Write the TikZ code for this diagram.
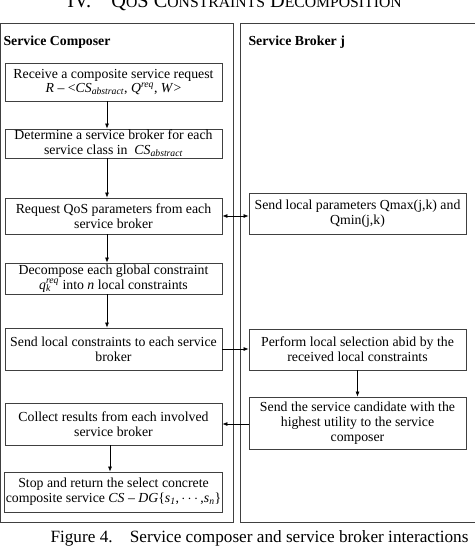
\documentclass[tikz,border=0pt]{standalone}
\usepackage{fontspec}
\setmainfont{Liberation Serif}
\usetikzlibrary{arrows.meta}
\newcommand{\itx}[1]{\textit{#1}}
\newcommand{\subsup}[3]{\textit{#1}\rlap{\textsubscript{\textit{#2}}}\textsuperscript{\textit{#3}}}
\begin{document}
\begin{tikzpicture}[x=1pt,y=-1pt,
  lane/.style={draw=black!75,line width=0.8pt},
  stepbox/.style={draw=black!75,line width=0.8pt,align=center,inner sep=1pt,
    font=\fontsize{13.8}{14.8}\selectfont,minimum width=217pt},
  head/.style={font=\fontsize{13.8}{15}\selectfont\bfseries,anchor=west},
  conn/.style={line width=0.7pt,-{Latex[length=5pt,width=4pt]}},
  conn2/.style={line width=0.7pt,{Latex[length=5pt,width=4pt]}-{Latex[length=5pt,width=4pt]}}]
\useasboundingbox (0,0) rectangle (474,546);
\node[anchor=base] (title) at (234.5,8) {\fontsize{20.3}{22}\selectfont IV.\quad Q{\fontsize{15.7}{17}\selectfont O}S C{\fontsize{15.7}{17}\selectfont ONSTRAINTS} D{\fontsize{15.7}{17}\selectfont ECOMPOSITION}};
% lanes
\draw[lane] (0.5,23) rectangle (233.5,522);
\draw[lane] (240,23) rectangle (476,522);
\node[head] (hc) at (0,42) {Service Composer};
\node[head] (hb) at (245,42) {Service Broker j};
\coordinate (ax) at (107,0);
\coordinate (ax2) at (110,0);
% left steps
\node[stepbox,minimum height=38pt] (b1) at (113.5,82) {Receive a composite service request\\ \itx{R} – <\itx{CS}\textsubscript{\itx{abstract}}, \itx{Q}\textsuperscript{\itx{req}}, \itx{W}>};
\node[stepbox,minimum height=29pt] (b2) at (113.5,143.5) {Determine a service broker for each\\ service class in \ \itx{CS}\textsubscript{\itx{abstract}}};
\node[stepbox,minimum height=36pt] (b3) at (113.5,216) {Request QoS parameters from each\\ service broker};
\node[stepbox,minimum height=31pt] (b4) at (113.5,278.5) {Decompose each global constraint\\ \subsup{q}{k}{req} into \itx{n} local constraints};
\node[stepbox,minimum height=42pt] (b5) at (113.5,349) {Send local constraints to each service\\ broker};
\node[stepbox,minimum height=42pt] (b6) at (113.5,424) {Collect results from each involved\\ service broker};
\node[stepbox,minimum height=40pt] (b7) at (113.5,492) {Stop and return the select concrete\\ composite service \itx{CS} – \itx{DG}\{\itx{s}\textsubscript{\itx{1}},\,$\cdots$\,,\itx{s}\textsubscript{\itx{n}}\}};
% right steps
\node[stepbox,minimum height=41pt] (r1) at (357.5,213.5) {Send local parameters Qmax(j,k) and\\ Qmin(j,k)};
\node[stepbox,minimum height=41pt] (r2) at (357.5,349.5) {Perform local selection abid by the\\ received local constraints};
\node[stepbox,minimum height=52pt] (r3) at (357.5,423) {Send the service candidate with the\\ highest utility to the service\\ composer};
% connectors
\draw[conn] (b1.south -| ax) -- (b2.north -| ax);
\draw[conn] (b2.south -| ax) -- (b3.north -| ax);
\draw[conn] (b3.south -| ax) -- (b4.north -| ax);
\draw[conn] (b4.south -| ax) -- (b5.north -| ax);
\draw[conn] (b6.south -| ax2) -- (b7.north -| ax2);
\draw[conn] (r2) -- (r3);
\draw[conn2] (b3.east) -- (b3.east -| r1.west);
\draw[conn] (b5.east) -- (b5.east -| r2.west);
\draw[conn] (r3.west |- b6.east) -- (b6.east);
% caption
\node[anchor=base] (cap) at (259.5,542) {\fontsize{17.2}{19}\selectfont Figure 4.\quad Service composer and service broker interactions};
\end{tikzpicture}
\end{document}
